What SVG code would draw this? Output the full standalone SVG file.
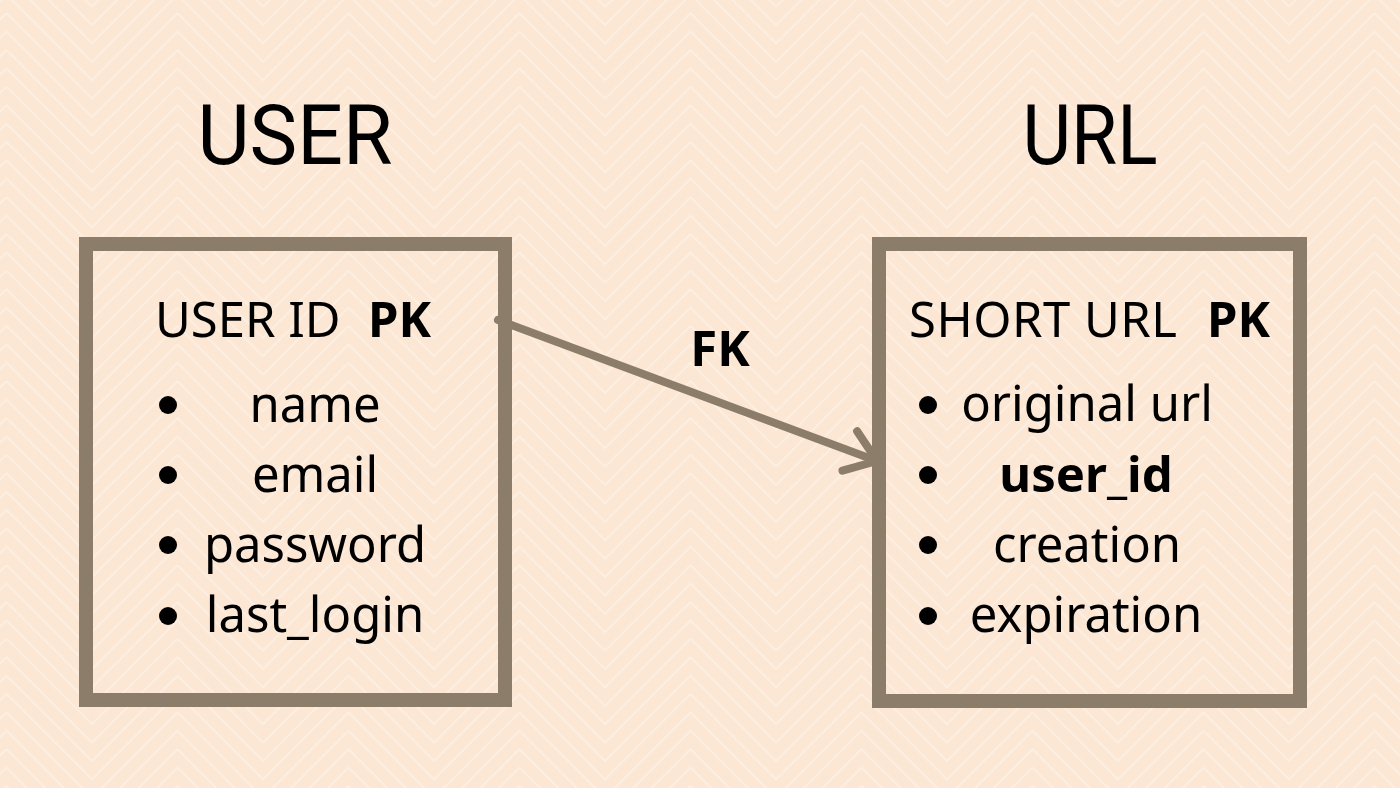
<svg xmlns="http://www.w3.org/2000/svg" width="1400" height="788" viewBox="0 0 1400 788">
  <defs>
    <pattern id="chev" patternUnits="userSpaceOnUse" x="6.5" y="-5.3" width="171" height="18.4">
      <path d="M0,-92 L85.5,-6.5 L171,-92 M0,-73.6 L85.5,11.9 L171,-73.6 M0,-55.2 L85.5,30.3 L171,-55.2 M0,-36.8 L85.5,48.7 L171,-36.8 M0,-18.4 L85.5,67.1 L171,-18.4 M0,0 L85.5,85.5 L171,0 M0,18.4 L85.5,103.9 L171,18.4" fill="none" stroke="#fdf0e4" stroke-width="1.6"/>
    </pattern>
    <marker id="arrow" markerUnits="userSpaceOnUse" markerWidth="80" markerHeight="80" refX="40" refY="40" orient="auto" viewBox="0 0 80 80">
      <path d="M11,19 L40,40 L11,61" fill="none" stroke="#8c7c6a" stroke-width="8" stroke-linecap="round" stroke-linejoin="round"/>
    </marker>
  </defs>
  <style>
    .box { fill: none; stroke: #8c7c6a; stroke-width: 14; }
    .title { font-family: Roboto, "Liberation Sans", sans-serif; font-size: 83px; fill: #000; text-anchor: middle; }
    .t { font-family: "Noto Sans", "Open Sans", sans-serif; font-size: 49px; fill: #000; }
    .c { text-anchor: middle; }
    .b { font-weight: bold; }
    .dot { fill: #000; }
    .conn { fill: none; stroke: #8c7c6a; stroke-width: 8; stroke-linecap: round; }
  </style>
  <rect width="1400" height="788" fill="#fbe7d4"/>
  <rect width="1400" height="788" fill="url(#chev)"/>

  <text class="title" x="295" y="164" textLength="195" lengthAdjust="spacingAndGlyphs">USER</text>
  <text class="title" x="1090" y="164" textLength="135" lengthAdjust="spacingAndGlyphs">URL</text>

  <g id="user">
    <rect class="box" x="86" y="244" width="419" height="456"/>
    <text class="t" x="155" y="337">USER ID</text>
    <text class="t b" x="368" y="337">PK</text>
    <circle class="dot" cx="168" cy="405" r="9"/>
    <circle class="dot" cx="168" cy="475" r="9"/>
    <circle class="dot" cx="168" cy="545" r="9"/>
    <circle class="dot" cx="168" cy="616" r="9"/>
    <text class="t c" x="315" y="422">name</text>
    <text class="t c" x="315" y="492">email</text>
    <text class="t c" x="315" y="562">password</text>
    <text class="t c" x="315" y="632">last_login</text>
  </g>

  <g id="url">
    <rect class="box" x="879" y="244" width="421" height="457"/>
    <text class="t" x="909" y="337" textLength="268">SHORT URL</text>
    <text class="t b" x="1207" y="337">PK</text>
    <circle class="dot" cx="928" cy="405" r="9"/>
    <circle class="dot" cx="928" cy="475" r="9"/>
    <circle class="dot" cx="928" cy="545" r="9"/>
    <circle class="dot" cx="928" cy="616" r="9"/>
    <text class="t c" x="1087" y="421">original url</text>
    <text class="t c b" x="1086" y="492">user_id</text>
    <text class="t c" x="1087" y="562">creation</text>
    <text class="t c" x="1086" y="632">expiration</text>
  </g>

  <g id="connectors">
    <path class="conn" d="M498,320 L877,461" marker-end="url(#arrow)"/>
    <text class="t b c" x="720" y="366">FK</text>
  </g>
</svg>
